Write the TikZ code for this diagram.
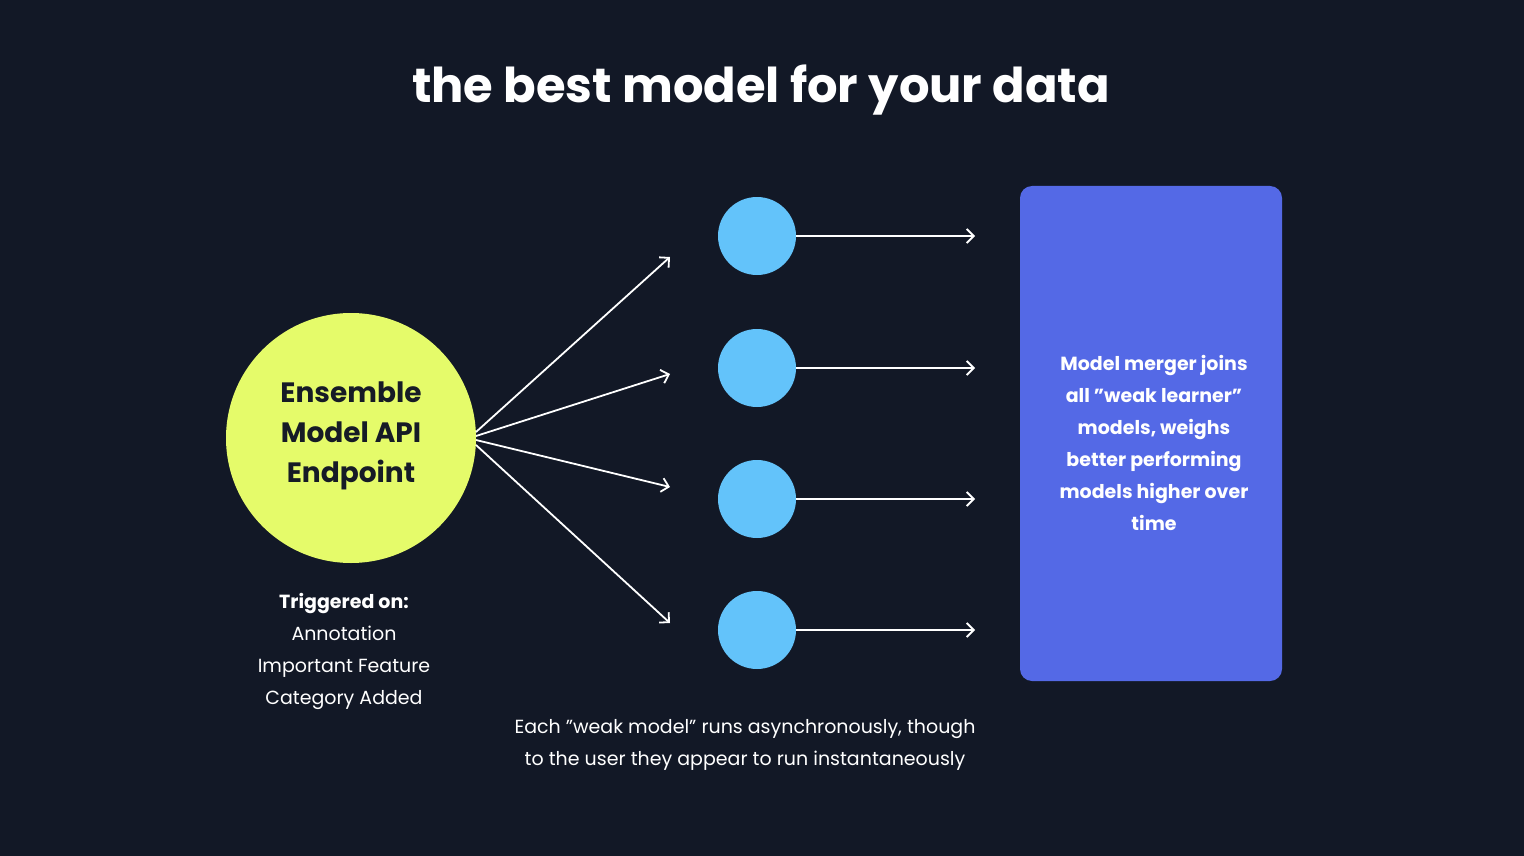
\documentclass[tikz,border=0pt]{standalone}
\usepackage{fontspec}
\setmainfont{Poppins}
\usetikzlibrary{arrows.meta}
\definecolor{bg}{HTML}{121826}
\definecolor{ylw}{HTML}{E5FB6A}
\definecolor{sky}{HTML}{63C3FA}
\definecolor{blu}{HTML}{5469E6}
\definecolor{dk}{HTML}{161B26}
\begin{document}
\begin{tikzpicture}[x=1pt,y=-1pt,
  arr/.style={draw=white,line width=1.8pt,-{Straight Barb[length=7pt,width=14pt,line width=1.8pt]}},
  weak/.style={circle,fill=sky,minimum size=78pt,inner sep=0pt},
  txt/.style={text=white,font=\fontsize{19}{32}\selectfont,align=center}]
\fill[bg] (0,0) rectangle (1524,856);
\useasboundingbox (0,0) rectangle (1524,856);
\node[text=white,font=\fontsize{48}{56}\selectfont\bfseries] (title) at (761,90) {the best model for your data};
\node[circle,fill=ylw,minimum size=250pt,inner sep=0pt] (ens) at (351,438) {};
\node[text=dk,font=\fontsize{28}{40}\selectfont\bfseries,align=center] (enst) at (351,436) {Ensemble\\Model API\\Endpoint};
\foreach \i/\y in {1/236,2/368,3/499,4/630}{
  \node[weak] (w\i) at (757,\y) {};
  \coordinate (e\i) at (975,\y);
  \draw[arr] (w\i.east) -- (e\i);
}
\coordinate (s1) at (476,432); \coordinate (t1) at (670,257);
\coordinate (s2) at (476,436); \coordinate (t2) at (670,374);
\coordinate (s3) at (476,440); \coordinate (t3) at (670,487);
\coordinate (s4) at (476,445); \coordinate (t4) at (670,623);
\foreach \i in {1,...,4}{\draw[arr] (s\i) -- (t\i);}
\node[fill=blu,rounded corners=12pt,minimum width=262pt,minimum height=495pt,inner sep=0pt] (merge) at (1151,433.5) {};
\node[txt,font=\fontsize{19}{32}\selectfont\bfseries] (mt) at (1154,443) {Model merger joins\\all "weak learner"\\models, weighs\\better performing\\models higher over\\time};
\node[txt] (trig) at (344,651) {\textbf{Triggered on:}\\Annotation\\Important Feature\\Category Added};
\node[txt] (note) at (745,745) {Each "weak model" runs asynchronously, though\\to the user they appear to run instantaneously};
\end{tikzpicture}
\end{document}
